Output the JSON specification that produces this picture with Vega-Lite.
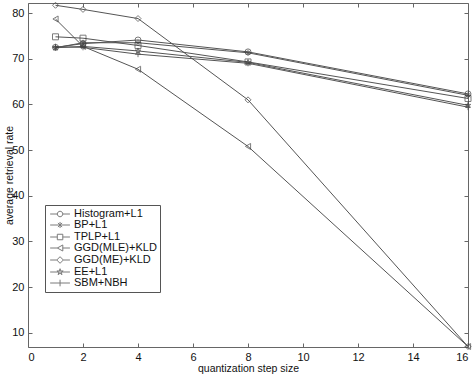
{
  "$schema": "https://vega.github.io/schema/vega-lite/v6.json",
  "width": 440,
  "height": 344,
  "autosize": {"type": "none"},
  "padding": {"left": 28, "top": 3, "right": 6, "bottom": 27},
  "background": "white",
  "config": {
    "view": {"stroke": null},
    "font": "Liberation Sans",
    "axis": {"grid": false, "domainColor": "#666", "tickColor": "#666", "labelColor": "#111", "titleColor": "#111", "labelFontSize": 11, "titleFontSize": 10.5, "titleFontWeight": "normal", "labelFont": "Liberation Sans", "titleFont": "Liberation Sans"}
  },
  "data": {"values": [
    {"m": "Histogram+L1", "x": 1, "y": 72.5}, {"m": "Histogram+L1", "x": 2, "y": 73.3}, {"m": "Histogram+L1", "x": 4, "y": 74.1}, {"m": "Histogram+L1", "x": 8, "y": 71.5}, {"m": "Histogram+L1", "x": 16, "y": 62.3},
    {"m": "BP+L1", "x": 1, "y": 72.4}, {"m": "BP+L1", "x": 2, "y": 73.5}, {"m": "BP+L1", "x": 4, "y": 73.5}, {"m": "BP+L1", "x": 8, "y": 71.3}, {"m": "BP+L1", "x": 16, "y": 62.0},
    {"m": "TPLP+L1", "x": 1, "y": 74.8}, {"m": "TPLP+L1", "x": 2, "y": 74.5}, {"m": "TPLP+L1", "x": 4, "y": 72.9}, {"m": "TPLP+L1", "x": 8, "y": 69.3}, {"m": "TPLP+L1", "x": 16, "y": 61.3},
    {"m": "GGD(MLE)+KLD", "x": 1, "y": 78.7}, {"m": "GGD(MLE)+KLD", "x": 2, "y": 72.7}, {"m": "GGD(MLE)+KLD", "x": 4, "y": 67.7}, {"m": "GGD(MLE)+KLD", "x": 8, "y": 50.8}, {"m": "GGD(MLE)+KLD", "x": 16, "y": 7.0},
    {"m": "GGD(ME)+KLD", "x": 1, "y": 81.7}, {"m": "GGD(ME)+KLD", "x": 2, "y": 80.8}, {"m": "GGD(ME)+KLD", "x": 4, "y": 78.8}, {"m": "GGD(ME)+KLD", "x": 8, "y": 61.0}, {"m": "GGD(ME)+KLD", "x": 16, "y": 7.0},
    {"m": "EE+L1", "x": 1, "y": 72.4}, {"m": "EE+L1", "x": 2, "y": 72.7}, {"m": "EE+L1", "x": 4, "y": 71.7}, {"m": "EE+L1", "x": 8, "y": 69.2}, {"m": "EE+L1", "x": 16, "y": 59.8},
    {"m": "SBM+NBH", "x": 1, "y": 72.6}, {"m": "SBM+NBH", "x": 2, "y": 72.5}, {"m": "SBM+NBH", "x": 4, "y": 71.0}, {"m": "SBM+NBH", "x": 8, "y": 69.0}, {"m": "SBM+NBH", "x": 16, "y": 59.4}
  ]},
  "layer": [
    {
      "mark": {"type": "line", "color": "#555", "strokeWidth": 1},
      "encoding": {
        "x": {"field": "x", "type": "quantitative", "scale": {"domain": [0, 16], "nice": false}, "axis": {"values": [0,2,4,6,8,10,12,14,16], "tickSize": -4, "labelPadding": 8, "title": "quantization step size", "titleY": 16, "titleBaseline": "top"}},
        "y": {"field": "y", "type": "quantitative", "scale": {"domain": [6.9, 82.2], "nice": false, "zero": false}, "axis": {"values": [10,20,30,40,50,60,70,80], "tickSize": -4, "labelPadding": 8, "title": "average retrieval rate", "titleX": -16, "titleBaseline": "alphabetic"}},
        "detail": {"field": "m"}
      }
    },
    {
      "mark": {"type": "point", "filled": false, "color": "#444", "strokeWidth": 1, "size": 36},
      "encoding": {
        "x": {"field": "x", "type": "quantitative", "axis": {"orient": "top", "values": [0,2,4,6,8,10,12,14,16], "tickSize": -4, "labels": false, "title": null}},
        "y": {"field": "y", "type": "quantitative", "axis": {"orient": "right", "values": [10,20,30,40,50,60,70,80], "tickSize": -4, "labels": false, "title": null}},
        "shape": {
          "field": "m", "type": "nominal", "legend": null,
          "scale": {
            "domain": ["Histogram+L1", "BP+L1", "TPLP+L1", "GGD(MLE)+KLD", "GGD(ME)+KLD", "EE+L1", "SBM+NBH"],
            "range": ["circle", "M-1,0H1M0,-1V1M-0.7,-0.7L0.7,0.7M-0.7,0.7L0.7,-0.7", "square", "triangle-left", "diamond", "M0,-1L0.223,-0.307L0.951,-0.309L0.361,0.117L0.588,0.809L0,0.38L-0.588,0.809L-0.361,0.117L-0.951,-0.309L-0.223,-0.307Z", "M-1,0H1M0,-1V1"]
          }
        }
      }
    },
    {
      "transform": [{"filter": "datum.x < 0"}],
      "mark": {"type": "point", "filled": false, "color": "#444", "strokeWidth": 1},
      "encoding": {
        "shape": {
          "field": "m", "type": "nominal",
          "scale": {
            "domain": ["Histogram+L1", "BP+L1", "TPLP+L1", "GGD(MLE)+KLD", "GGD(ME)+KLD", "EE+L1", "SBM+NBH"],
            "range": [
              "M-0.7,0H0.6M1.6,0H2.9M1.6,0A0.5,0.5,0,1,1,0.6,0A0.5,0.5,0,1,1,1.6,0Z",
              "M-0.7,0H2.9M1.1,-0.55V0.55M0.72,-0.38L1.48,0.38M0.72,0.38L1.48,-0.38",
              "M-0.7,0H0.6M1.6,0H2.9M0.6,-0.5H1.6V0.5H0.6Z",
              "M-0.7,0H0.6M1.6,0H2.9M0.6,0L1.6,-0.55L1.6,0.55Z",
              "M-0.7,0H0.5M1.7,0H2.9M1.1,-0.6L1.7,0L1.1,0.6L0.5,0Z",
              "M-0.7,0H2.9M1.1,-0.6L1.234,-0.184L1.671,-0.185L1.317,0.07L1.453,0.485L1.1,0.228L0.747,0.485L0.883,0.07L0.529,-0.185L0.966,-0.184Z",
              "M-0.7,0H2.9M1.1,-0.6V0.6"
            ]
          },
          "legend": {
            "title": null,
            "orient": "none",
            "legendX": 17,
            "legendY": 202,
            "fillColor": "white",
            "strokeColor": "#555",
            "padding": 3,
            "symbolSize": 121,
            "symbolStrokeColor": "#444",
            "symbolStrokeWidth": 1,
            "symbolFillColor": "transparent",
            "labelFontSize": 11,
            "labelFont": "Liberation Sans",
            "labelColor": "#111",
            "labelOffset": 14,
            "rowPadding": 0,
            "offset": 0
          }
        }
      }
    }
  ],
  "resolve": {"axis": {"x": "independent", "y": "independent"}, "scale": {"shape": "independent"}}
}
